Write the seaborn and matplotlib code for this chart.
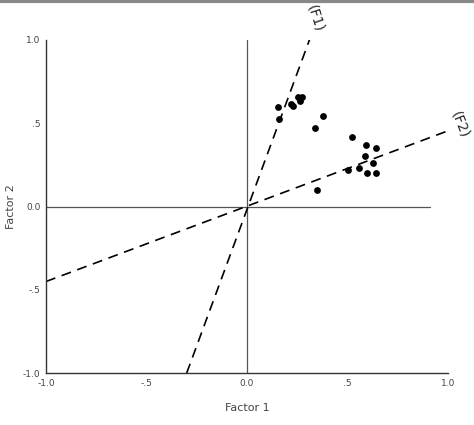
import pandas as pd
import seaborn as sns
import matplotlib.pyplot as plt

# factor loadings
factor1 = [0.156, 0.159, 0.219, 0.229, 0.254, 0.274, 0.264, 0.380, 0.338, 0.521,
           0.592, 0.642, 0.587, 0.625, 0.504, 0.559, 0.596, 0.640, 0.347]
factor2 = [0.595, 0.528, 0.614, 0.602, 0.657, 0.657, 0.633, 0.544, 0.474, 0.420,
           0.369, 0.349, 0.303, 0.259, 0.219, 0.229, 0.199, 0.203, 0.102]

# rotated factor axes (end points)
f1_x = [-0.30, 0.32]
f1_y = [-1.0, 1.03]
f2_x = [-1.0, 0.99]
f2_y = [-0.45, 0.45]

tick_vals = [-1.0, -0.5, 0.0, 0.5, 1.0]
tick_labels = ["-1.0", "-.5", "0.0", ".5", "1.0"]

sns.set_theme(style="white")
plt.rcParams['font.family'] = ['DejaVu Sans']

fig = plt.figure(figsize=(4.74, 4.25), dpi=100)
ax = fig.add_axes([0.097, 0.122, 0.848, 0.784])

# reference lines through origin
ax.plot([-1.0, 0.91], [0, 0], color="#555555", lw=0.9)
ax.plot([0, 0], [-1.0, 1.0], color="#555555", lw=0.9)

sns.lineplot(x=f1_x, y=f1_y, ax=ax, color="black", lw=1.2, linestyle=(0, (6, 4)))
sns.lineplot(x=f2_x, y=f2_y, ax=ax, color="black", lw=1.2, linestyle=(0, (6, 4)))

df = pd.DataFrame({"Factor 1": factor1, "Factor 2": factor2})
sns.scatterplot(data=df, x="Factor 1", y="Factor 2", ax=ax, color="black",
                s=24, marker="o", edgecolor="black", linewidth=0)

ax.set_xlim(-1.0, 1.0)
ax.set_ylim(-1.0, 1.0)
ax.set_xticks(tick_vals)
ax.set_xticklabels(tick_labels)
ax.set_yticks(tick_vals)
ax.set_yticklabels(tick_labels)
ax.tick_params(axis="both", labelsize=6.5, colors="#444444", length=2,
               width=1, direction="out", pad=2)
ax.set_xlabel("Factor 1", fontsize=8, color="#444444")
ax.set_ylabel("Factor 2", fontsize=8, color="#444444")
ax.xaxis.set_label_coords(0.5, -0.105)
ax.xaxis.label.set_va("center")
ax.yaxis.set_label_coords(-0.088, 0.5)
ax.yaxis.label.set_va("center")

sns.despine(ax=ax, top=True, right=True)
for s in ("left", "bottom"):
    ax.spines[s].set_color("#333333")
    ax.spines[s].set_linewidth(1.0)

ax.text(0.34, 1.13, "(F1)", fontsize=10, rotation=-72, ha="center", va="center",
        clip_on=False)
ax.text(1.06, 0.49, "(F2)", fontsize=10, rotation=-68, ha="center", va="center",
        clip_on=False)

# gray rule along the top edge
fig.add_artist(plt.Line2D([0, 1], [0.997, 0.997], color="#888888", lw=3,
                          transform=fig.transFigure))

fig.savefig("out.png", dpi=100)
